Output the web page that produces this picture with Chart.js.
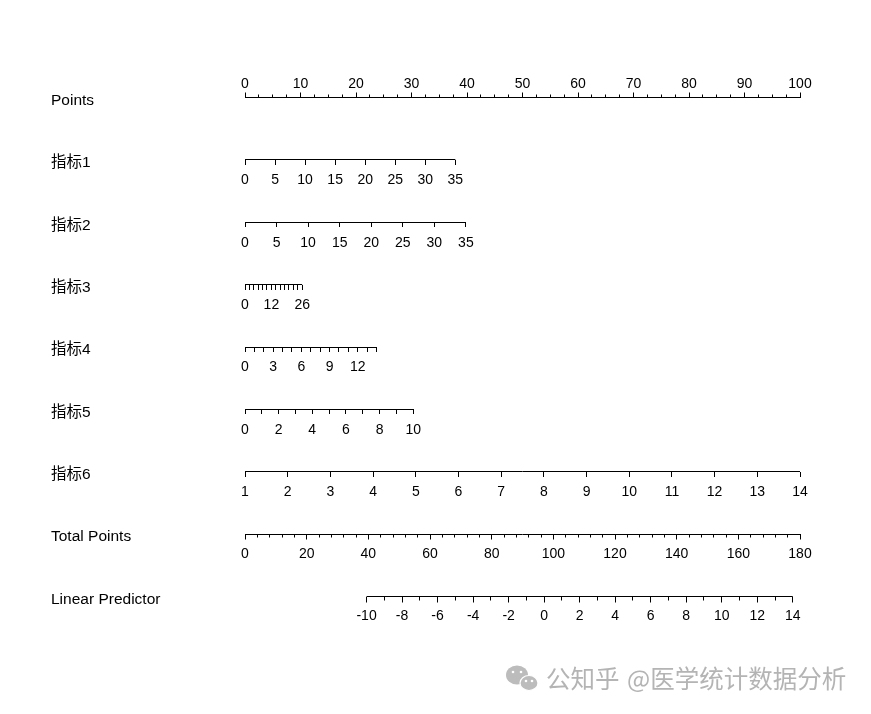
<!DOCTYPE html>
<html>
<head>
<meta charset="utf-8">
<title>Nomogram</title>
<script src="https://cdn.jsdelivr.net/npm/chart.js@4.4.1/dist/chart.umd.min.js"></script>
<style>
  html, body { margin: 0; padding: 0; background: #fff; }
  #wrap { width: 871px; height: 714px; position: relative; }
</style>
</head>
<body>
<div id="wrap"><canvas id="nomogram"></canvas></div>
<script>
// rows, top to bottom
const rowTitles = ['Points', '指标1', '指标2', '指标3', '指标4', '指标5', '指标6', 'Total Points', 'Linear Predictor'];

// value range covered by each row's scale
const rangeLow  = [0, 0, 0, 0, 0, 0, 1, 0, -10];
const rangeHigh = [100, 35, 35, 26, 14, 10, 14, 180, 14];

// where both ends of each row fall on the Points axis (0-100)
const pointsAtLow  = [0, 0, 0, 0, 0, 0, 0, 0, 21.9];
const pointsAtHigh = [100, 37.9, 39.8, 10.3, 23.7, 30.3, 100, 100, 98.7];

// labelled ticks
const pointsLabels = [0, 10, 20, 30, 40, 50, 60, 70, 80, 90, 100];
const ind1Labels = [0, 5, 10, 15, 20, 25, 30, 35];
const ind2Labels = [0, 5, 10, 15, 20, 25, 30, 35];
const ind3Labels = [0, 12, 26];
const ind4Labels = [0, 3, 6, 9, 12];
const ind5Labels = [0, 2, 4, 6, 8, 10];
const ind6Labels = [1, 2, 3, 4, 5, 6, 7, 8, 9, 10, 11, 12, 13, 14];
const totalLabels = [0, 20, 40, 60, 80, 100, 120, 140, 160, 180];
const lpLabels = [-10, -8, -6, -4, -2, 0, 2, 4, 6, 8, 10, 12, 14];

// spacing of all tick marks on each row
const tickStep = [2.5, 5, 5, 2, 1, 1, 1, 4, 1];

const labelSets = [pointsLabels, ind1Labels, ind2Labels, ind3Labels, ind4Labels, ind5Labels, ind6Labels, totalLabels, lpLabels];
// rows where the unlabelled ticks are drawn shorter
const shortMinor = [true, false, false, false, false, false, false, true, true];

const tickFont = { family: '"Liberation Sans", Arial, sans-serif', size: 14 };
const titleFont = { family: '"Liberation Sans", Arial, "Noto Sans CJK SC", sans-serif', size: 15.5 };

function tickValues(i) {
  const out = [];
  for (let v = rangeLow[i]; v <= rangeHigh[i] + 1e-9; v += tickStep[i]) out.push(+v.toFixed(3));
  return out;
}

// the axis spans the whole plot width, so stretch min/max to put the row in its place
function spanFor(i) {
  const perPoint = (rangeHigh[i] - rangeLow[i]) / (pointsAtHigh[i] - pointsAtLow[i]);
  const min = rangeLow[i] - pointsAtLow[i] * perPoint;
  return { min: min, max: min + 100 * perPoint };
}

function rowAxis(i, values, tickLen, withLabels) {
  const up = i === 0;
  const labels = labelSets[i];
  const span = spanFor(i);
  return {
    type: 'linear',
    axis: 'x',
    position: { y: i },
    min: span.min,
    max: span.max,
    afterBuildTicks: s => { s.ticks = values.map(v => ({ value: v })); },
    grid: {
      drawOnChartArea: false,
      drawTicks: true,
      tickLength: up ? -tickLen : tickLen,
      color: '#000',
      lineWidth: 1
    },
    border: { display: false },
    ticks: {
      display: withLabels,
      autoSkip: false,
      maxRotation: 0,
      minRotation: 0,
      padding: up ? -16 : (shortMinor[i] ? 6 : 7),
      color: '#000',
      font: tickFont,
      callback: v => labels.includes(v) ? String(v) : ''
    }
  };
}

const scales = {
  y: {
    type: 'linear',
    position: 'left',
    min: 0,
    max: rowTitles.length - 1,
    reverse: true,
    afterBuildTicks: s => { s.ticks = rowTitles.map((t, i) => ({ value: i })); },
    afterFit: s => { s.width = 194; },
    grid: { display: false },
    border: { display: false },
    ticks: {
      crossAlign: 'far',
      autoSkip: false,
      color: '#000',
      font: titleFont,
      labelOffset: 3,
      callback: v => rowTitles[v]
    }
  }
};

rowTitles.forEach((t, i) => {
  const all = tickValues(i);
  if (shortMinor[i]) {
    scales['x' + i] = rowAxis(i, labelSets[i], 5.5, true);
    scales['x' + i + 'm'] = rowAxis(i, all.filter(v => !labelSets[i].includes(v)), 3.5, false);
  } else {
    scales['x' + i] = rowAxis(i, all, 5, true);
  }
});

const datasets = rowTitles.map((t, i) => ({
  label: t,
  data: [{ x: rangeLow[i], y: i }, { x: rangeHigh[i], y: i }],
  xAxisID: 'x' + i,
  yAxisID: 'y',
  borderColor: '#000',
  borderWidth: 1,
  pointRadius: 0,
  tension: 0,
  clip: false
}));

// keep the 1px axis lines on whole pixels
const crispRows = {
  id: 'crispRows',
  beforeDatasetsDraw(chart) {
    chart.getSortedVisibleDatasetMetas().forEach(meta => {
      meta.data.forEach(pt => { pt.y = Math.floor(pt.y) + 0.5; });
    });
  }
};

const watermark = {
  id: 'watermark',
  afterDraw(chart) {
    const ctx = chart.ctx;
    ctx.save();
    ctx.fillStyle = '#bcbcbc';
    ctx.beginPath();
    ctx.ellipse(517, 675, 11, 9.5, 0, 0, Math.PI * 2);
    ctx.fill();
    ctx.beginPath();
    ctx.ellipse(529, 683, 9, 7.5, 0, 0, Math.PI * 2);
    ctx.fill();
    ctx.strokeStyle = '#fff';
    ctx.lineWidth = 1.2;
    ctx.stroke();
    ctx.fillStyle = '#fff';
    [[513, 672], [521, 672], [526, 681], [532, 681]].forEach(p => {
      ctx.beginPath();
      ctx.arc(p[0], p[1], 1.3, 0, Math.PI * 2);
      ctx.fill();
    });
    ctx.fillStyle = '#b4b4b4';
    ctx.font = '24.5px "Noto Sans CJK SC", sans-serif';
    ctx.textBaseline = 'middle';
    ctx.fillText('公知乎', 546, 679);
    ctx.fillText('@医学统计数据分析', 627, 679);
    ctx.restore();
  }
};

new Chart(document.getElementById('nomogram'), {
  type: 'line',
  data: { datasets: datasets },
  options: {
    responsive: true,
    maintainAspectRatio: false,
    animation: false,
    events: [],
    layout: { padding: { top: 97.5, bottom: 117.5, left: 51, right: 71 } },
    scales: scales,
    plugins: {
      legend: { display: false },
      tooltip: { enabled: false }
    }
  },
  plugins: [crispRows, watermark]
});
</script>
</body>
</html>
